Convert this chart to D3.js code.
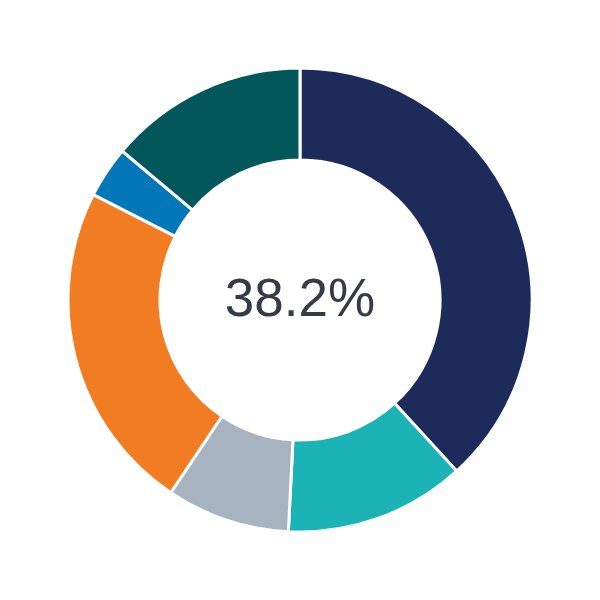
<!DOCTYPE html>
<html>
<head>
<meta charset="utf-8">
<script src="https://cdn.jsdelivr.net/npm/d3@7"></script>
<style>
html,body{margin:0;padding:0;background:#fff;}
svg{display:block;}
</style>
</head>
<body>
<svg id="chart" width="600" height="600"></svg>
<script>
const categories = ["A", "B", "C", "D", "E", "F"];
const values = [38.2, 12.6, 8.6, 23.1, 3.6, 13.9];
const colors = ["#1c2b5a", "#1bb3b5", "#a8b3c2", "#f27c21", "#0377b7", "#02575a"];
const centerLabel = "38.2%";

const svg = d3.select("#chart");
const g = svg.append("g").attr("transform", "translate(300,300)");

const pie = d3.pie().sort(null).value(d => d.value);
const arc = d3.arc().innerRadius(140).outerRadius(232);
const color = d3.scaleOrdinal().domain(categories).range(colors);

const data = categories.map((c, i) => ({ cat: c, value: values[i] }));

g.selectAll("path")
  .data(pie(data))
  .join("path")
  .attr("d", arc)
  .attr("fill", d => color(d.data.cat))
  .attr("stroke", "#fff")
  .attr("stroke-width", 3);

g.append("text")
  .attr("text-anchor", "middle")
  .attr("y", 16)
  .attr("font-family", "Liberation Sans, Arial, sans-serif")
  .attr("font-size", 53)
  .attr("fill", "#353b48")
  .text(centerLabel);
</script>
</body>
</html>
